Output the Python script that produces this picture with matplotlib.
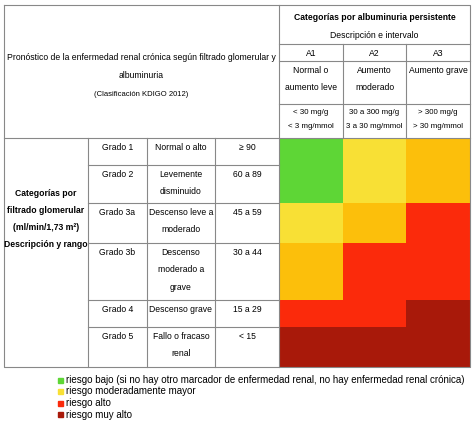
import matplotlib
matplotlib.use("Agg")
import matplotlib.pyplot as plt
from matplotlib.colors import ListedColormap, BoundaryNorm
import numpy as np

plt.rcParams['font.family'] = ['Liberation Sans', 'DejaVu Sans']

grades = ["Grado 1", "Grado 2", "Grado 3a", "Grado 3b", "Grado 4", "Grado 5"]
descs = ["Normal o alto", "Levemente\n\ndisminuido", "Descenso leve a\n\nmoderado",
         "Descenso\n\nmoderado a\n\ngrave", "Descenso grave", "Fallo o fracaso\n\nrenal"]
ranges = ["≥ 90", "60 a 89", "45 a 59", "30 a 44", "15 a 29", "< 15"]
alb_codes = ["A1", "A2", "A3"]
alb_desc = ["Normal o\n\naumento leve", "Aumento\n\nmoderado", "Aumento grave"]
alb_range = ["< 30 mg/g\n\n< 3 mg/mmol", "30 a 300 mg/g\n\n3 a 30 mg/mmol", "> 300 mg/g\n\n> 30 mg/mmol"]
# risk level: 0 low, 1 moderate, 2 high(orange), 3 high(red), 4 very high
risk = [[0, 1, 2], [0, 1, 2], [1, 2, 3], [2, 3, 3], [3, 3, 4], [4, 4, 4]]
risk_colors = ["#5ed636", "#f8e035", "#fcbf0b", "#fb2a0b", "#a8190a"]
legend_labels = ["riesgo bajo (si no hay otro marcador de enfermedad renal, no hay enfermedad renal crónica)",
                 "riesgo moderadamente mayor", "riesgo alto", "riesgo muy alto"]
legend_colors = ["#5ed636", "#f8e035", "#fb2a0b", "#a8190a"]

fig = plt.figure(figsize=(4.74, 4.24), dpi=100)
ax = fig.add_axes([0, 0, 1, 1])
ax.set_xlim(0, 474); ax.set_ylim(424, 0); ax.axis('off')

xcols = [4, 88, 147, 215, 279, 343, 406, 470]
yrows = [138, 165, 203, 243, 300, 327, 367]
top = 5
lc = "#888888"; lw = 0.8
fs = 6.2

cmap = ListedColormap(risk_colors)
norm = BoundaryNorm(np.arange(-0.5, 5, 1), cmap.N)
ax.pcolormesh(xcols[4:], yrows, np.array(risk), cmap=cmap, norm=norm)

ax.plot([xcols[0], xcols[-1], xcols[-1], xcols[0], xcols[0]], [top, top, yrows[-1], yrows[-1], top], color=lc, lw=lw)
ax.plot([xcols[4], xcols[4]], [top, yrows[-1]], color=lc, lw=lw)
ax.plot([xcols[0], xcols[-1]], [yrows[0], yrows[0]], color=lc, lw=lw)
ax.plot([xcols[4], xcols[-1]], [44, 44], color=lc, lw=lw)
for y in [61, 104]:
    ax.plot([xcols[4], xcols[-1]], [y, y], color=lc, lw=lw)
for x in xcols[5:7]:
    ax.plot([x, x], [44, yrows[0]], color=lc, lw=lw)
for x in xcols[1:4]:
    ax.plot([x, x], [yrows[0], yrows[-1]], color=lc, lw=lw)
for y in yrows[1:-1]:
    ax.plot([xcols[1], xcols[4]], [y, y], color=lc, lw=lw)

ax.text((xcols[4] + xcols[-1]) / 2, 17, "Categorías por albuminuria persistente", ha='center', va='center', fontsize=fs, fontweight='bold')
ax.text((xcols[4] + xcols[-1]) / 2, 35, "Descripción e intervalo", ha='center', va='center', fontsize=fs)
for j in range(3):
    cx = (xcols[4 + j] + xcols[5 + j]) / 2
    ax.text(cx, 53, alb_codes[j], ha='center', va='center', fontsize=fs)
    ax.text(cx, 66, alb_desc[j], ha='center', va='top', fontsize=fs, linespacing=0.95)
    ax.text(cx, 109, alb_range[j], ha='center', va='top', fontsize=fs - 0.5, linespacing=0.95)

cxl = (xcols[0] + xcols[4]) / 2
ax.text(cxl, 57, "Pronóstico de la enfermedad renal crónica según filtrado glomerular y", ha='center', va='center', fontsize=fs)
ax.text(cxl, 76, "albuminuria", ha='center', va='center', fontsize=fs)
ax.text(cxl, 95, "(Clasificación KDIGO 2012)", ha='center', va='center', fontsize=fs - 0.7)

ax.text((xcols[0] + xcols[1]) / 2, 219, "Categorías por\n\nfiltrado glomerular\n\n(ml/min/1,73 m²)\n\nDescripción y rango",
        ha='center', va='center', fontsize=fs, linespacing=0.95, fontweight='bold')
for i in range(6):
    y0 = yrows[i] + 5
    ax.text((xcols[1] + xcols[2]) / 2, y0, grades[i], ha='center', va='top', fontsize=fs)
    ax.text((xcols[2] + xcols[3]) / 2, y0, descs[i], ha='center', va='top', fontsize=fs, linespacing=0.95)
    ax.text((xcols[3] + xcols[4]) / 2, y0, ranges[i], ha='center', va='top', fontsize=fs)

for k, (lab, col) in enumerate(zip(legend_labels, legend_colors)):
    y = 380 + k * 11.5
    ax.add_patch(plt.Rectangle((58, y - 2.5), 5, 5, color=col))
    ax.text(66, y, lab, ha='left', va='center', fontsize=7)

fig.savefig("out.png", dpi=100)
